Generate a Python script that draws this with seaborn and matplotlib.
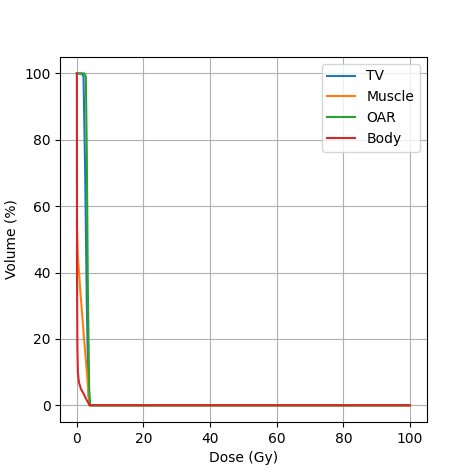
import matplotlib
matplotlib.use("Agg")
import matplotlib.pyplot as plt
import seaborn as sns
import pandas as pd

tv_dose = [0, 1.5, 2.0, 2.5, 3.0, 3.5, 4.0, 100]
tv_vol = [100, 100, 99, 70, 30, 3, 0, 0]
muscle_dose = [0, 0.3, 1.0, 2.0, 3.0, 3.8, 100]
muscle_vol = [55, 45, 35, 22, 10, 0, 0, 0][:7]
oar_dose = [0, 2.3, 2.7, 3.0, 3.3, 3.7, 4.0, 100]
oar_vol = [100, 100, 99, 75, 35, 5, 0, 0]
body_dose = [0, 0.05, 0.15, 0.3, 0.6, 1.2, 2.0, 3.0, 3.8, 100]
body_vol = [100, 40, 18, 10, 7, 5, 3.5, 1.5, 0, 0]

frames = []
for name, d, v in [("TV", tv_dose, tv_vol), ("Muscle", muscle_dose, muscle_vol),
                   ("OAR", oar_dose, oar_vol), ("Body", body_dose, body_vol)]:
    frames.append(pd.DataFrame({"dose": d, "vol": v, "s": name}))
df = pd.concat(frames)

fig, ax = plt.subplots(figsize=(4.74, 4.74), dpi=100)
sns.lineplot(data=df, x="dose", y="vol", hue="s", ax=ax, estimator=None, sort=False, linewidth=1.5)
ax.set_xlabel("Dose (Gy)")
ax.set_ylabel("Volume (%)")
ax.grid(True)
ax.legend(loc="upper right", title=None)
fig.subplots_adjust(left=0.127, right=0.9, bottom=0.11, top=0.88)
fig.savefig("out.png")
